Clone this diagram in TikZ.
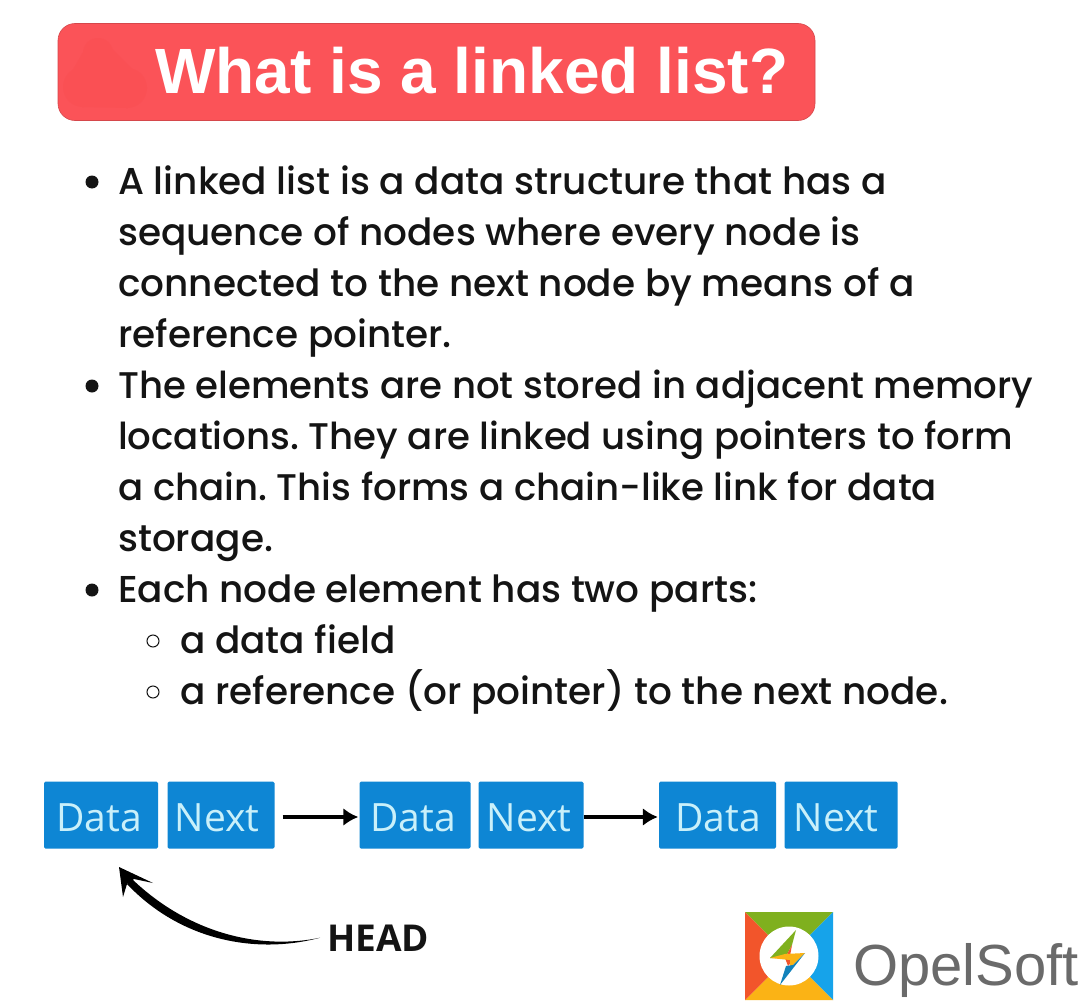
\documentclass[tikz,border=0pt]{standalone}
\usepackage{fontspec}
\setmainfont{Poppins Medium}
\frenchspacing
\newfontfamily\titlefont{Liberation Sans}
\newfontfamily\boxfont{Open Sans}
\newfontfamily\headfont{Open Sans}
\usetikzlibrary{arrows.meta,calc}
\definecolor{tred}{HTML}{FB5358}
\definecolor{tredd}{HTML}{FA5054}
\definecolor{bblue}{HTML}{0E86D4}
\definecolor{btext}{HTML}{C9F0FA}
\definecolor{ink}{HTML}{141414}
\definecolor{lgreen}{HTML}{7FB01E}
\definecolor{lred}{HTML}{F2552B}
\definecolor{lblue}{HTML}{16A3EA}
\definecolor{lyellow}{HTML}{FBB315}
\definecolor{lgrey}{HTML}{6A6A6A}
\tikzset{
  bodytext/.style={anchor=base west,inner sep=0pt,text=ink,font=\fontsize{37.4}{37.4}\selectfont},
  bodytight/.style={bodytext,font=\fontsize{37.1}{37.1}\selectfont},
  cell/.style={fill=bblue,rounded corners=1.5pt,minimum height=67pt,inner sep=0pt},
  cellword/.style={anchor=base,inner sep=0pt,text=btext,font=\boxfont\fontsize{39}{39}\selectfont},
  link/.style={draw=black,line width=4.4pt,-{Latex[length=15pt,width=18pt]}},
}
\begin{document}
\begin{tikzpicture}[x=1pt,y=-1pt]
\useasboundingbox (0,0) rectangle (1080,1001);
\fill[white] (0,0) rectangle (1080,1001);
% title
\node[fill=tred,draw=tred!85!black,line width=.6pt,rounded corners=17pt,minimum width=757pt,minimum height=97pt,inner sep=0pt] (title) at (436.5,72) {};
\fill[tredd] (98,53) circle (15pt);
\fill[tredd] (83,87) circle (20pt);
\fill[tredd] (127,88) circle (20pt);
\fill[tredd] (86,47) -- (110,47) -- (135,72) -- (127,108) -- (83,107) -- (64,85) -- cycle;
\node[anchor=base west,inner sep=0pt,text=white,font=\titlefont\bfseries\fontsize{64}{64}\selectfont] (ttext) at (155,93) {What is a linked list?};
% bullets
\foreach \n/\y in {a/182,b/386,c/590}{\fill[ink] (92,\y) circle (6.5pt);}
\foreach \y in {641,692}{\draw[ink,line width=1pt] (153,\y) circle (6pt);}
\node[bodytext] (l1) at (118,194) {A linked list is a data structure that has a};
\node[bodytext] (l2) at (118,245) {sequence of nodes where every node is};
\node[bodytext] (l3) at (118,296) {connected to the next node by means of a};
\node[bodytext] (l4) at (118,347) {reference pointer.};
\node[bodytight] (l5) at (118,398) {The elements are not stored in adjacent memory};
\node[bodytight] (l6) at (118,449) {locations. They are linked using pointers to form};
\node[bodytight] (l7) at (118,500) {a chain. This forms a chain-like link for data};
\node[bodytext] (l8) at (118,551) {storage.};
\node[bodytext] (l9) at (118,602) {Each node element has two parts:};
\node[bodytext] (l10) at (180,653) {a data field};
\node[bodytext] (l11) at (180,704) {a reference (or pointer) to the next node.};
% list cells
\node[cell,minimum width=114pt] (d1) at (101,815) {};
\node[cell,minimum width=107pt] (n1) at (221,815) {};
\node[cell,minimum width=111pt] (d2) at (415,815) {};
\node[cell,minimum width=105pt] (n2) at (531,815) {};
\node[cell,minimum width=117pt] (d3) at (717.5,815) {};
\node[cell,minimum width=113pt] (n3) at (841,815) {};
\node[cellword] (wd1) at (99,831) {Data};
\node[cellword] (wn1) at (217,831) {Next};
\node[cellword] (wd2) at (413,831) {Data};
\node[cellword] (wn2) at (529,831) {Next};
\node[cellword] (wd3) at (718,831) {Data};
\node[cellword] (wn3) at (836,831) {Next};
\draw[link,shorten <=8pt,shorten >=1pt] ([yshift=-2pt]n1.east) -- ([yshift=-2pt]d2.west);
\draw[link,shorten >=1pt] ([yshift=-2pt]n2.east) -- ([yshift=-2pt]d3.west);
% HEAD
\node[anchor=base west,inner sep=0pt,text=ink,font=\headfont\bfseries\fontsize{37}{37}\selectfont] (head) at (327,951) {HEAD};
\coordinate (tip) at (119,867);
\coordinate (tail) at ($(head.west)+(-7,0)$);
\fill[black] (tail) .. controls (255,951) and (185,930) .. (132,879)
  -- (127,884) .. controls (180,940) and (255,955) .. (tail) -- cycle;
\fill[black] (tip) -- (153,883) -- (134,879) -- (127,884) -- (123,897) -- cycle;
% logo
\fill[lgreen] (745,912) -- (833,912) -- (789,956) -- cycle;
\fill[lblue] (833,912) -- (833,1000) -- (789,956) -- cycle;
\fill[lyellow] (745,1000) -- (833,1000) -- (789,956) -- cycle;
\fill[lred] (745,912) -- (745,1000) -- (789,956) -- cycle;
\fill[white] (789,956) circle (29.5pt);
\fill[lgreen] (796,930) -- (770,958) -- (785,958) -- (792,945) -- cycle;
\fill[lred] (785,958) -- (792,945) -- (790,956) -- (797,956) -- (788,966) -- cycle;
\fill[lyellow] (770,958) -- (785,954) -- (805,953) -- (790,968) -- (790,960) -- cycle;
\fill[lblue!80!black] (805,953) -- (780,985) -- (786,966) -- (793,965) -- cycle;
\node[anchor=base west,inner sep=0pt,text=lgrey,font=\titlefont\fontsize{58}{58}\selectfont] (brand) at (853,985) {OpelSoft};
\end{tikzpicture}
\end{document}
